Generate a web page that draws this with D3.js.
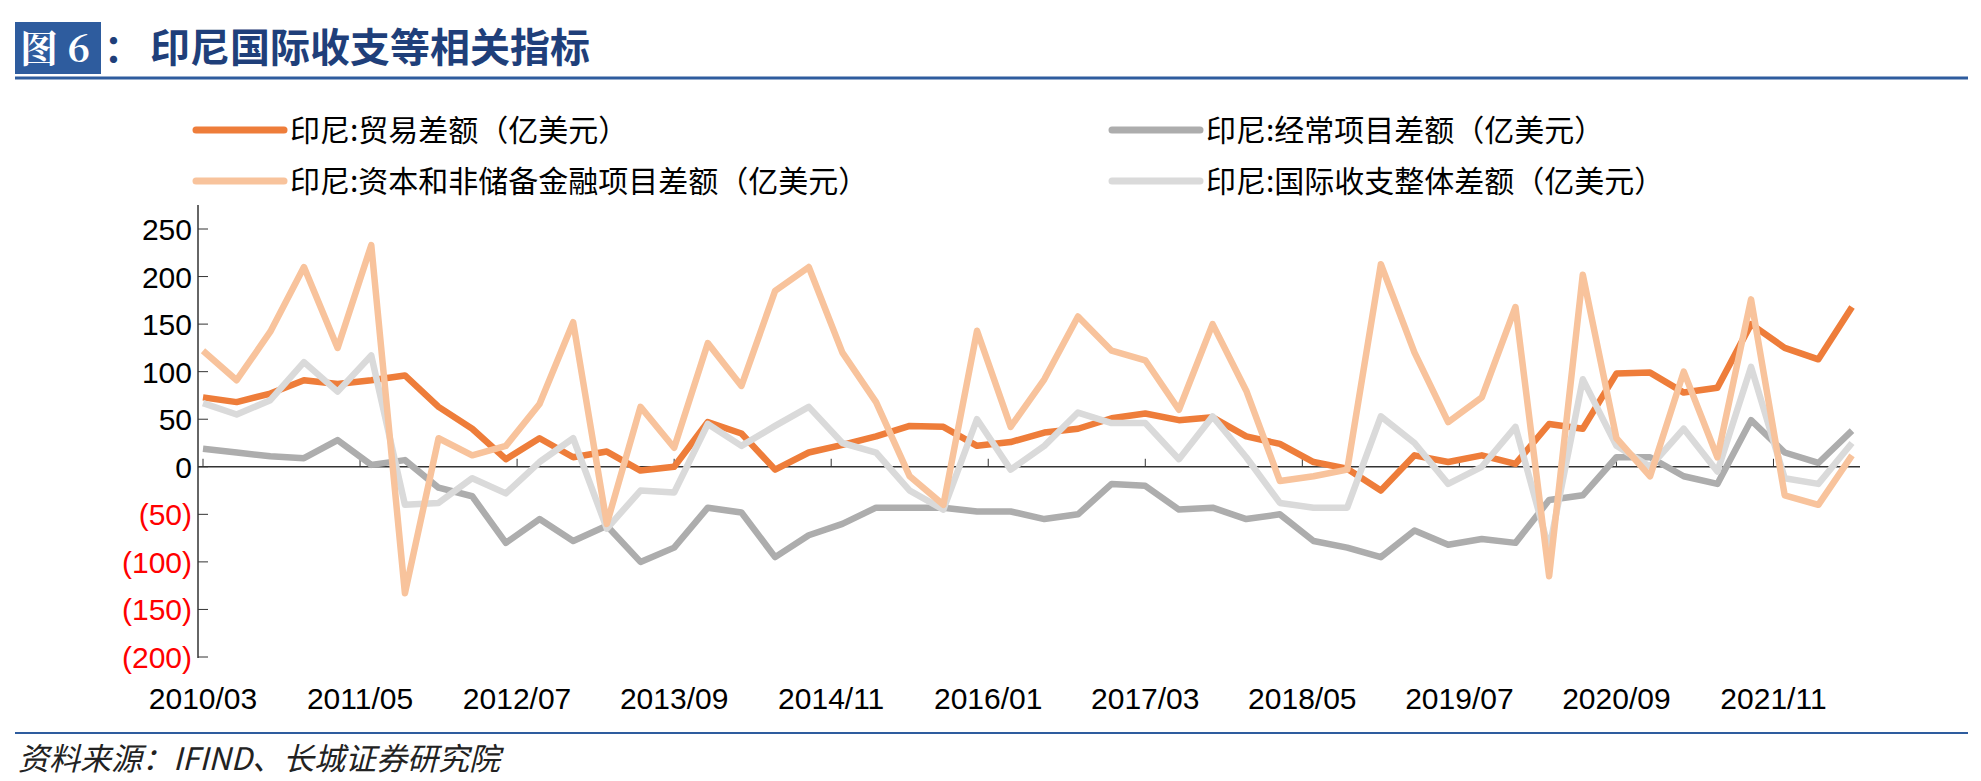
<!DOCTYPE html>
<html><head><meta charset="utf-8">
<script src="https://cdn.jsdelivr.net/npm/d3@7"></script>
<style>body{margin:0;background:#fff}</style>
</head><body>
<svg id="chart" width="1981" height="781"></svg>
<script>
// quarterly, 2010/03 .. 2022/06
var trade = [73,68,77,91,87,91,96,63,40,8,30,10,16,-4,0,47,35,-3,15,23,32,43,42,22,26,36,40,51,56,49,52,32,24,5,-2,-25,12,5,12,3,45,40,98,99,78,83,150,125,113,168];
var current = [19,15,11,9,28,2,7,-22,-31,-80,-55,-78,-62,-100,-85,-43,-48,-95,-72,-60,-43,-43,-43,-47,-47,-55,-50,-18,-20,-45,-43,-55,-50,-78,-85,-95,-67,-82,-76,-80,-35,-30,10,10,-10,-18,49,15,4,38];
var capital = [122,91,142,210,125,233,-133,30,12,22,66,152,-60,63,20,130,85,185,210,120,68,-10,-40,143,42,92,158,122,112,60,150,80,-15,-10,-3,213,120,47,73,168,-115,202,30,-10,100,10,176,-30,-40,12];
var overall = [67,55,70,110,79,117,-40,-38,-12,-28,5,30,-65,-25,-27,45,22,43,63,25,15,-25,-45,50,-3,22,57,46,46,8,53,10,-38,-43,-43,53,25,-18,0,42,-87,92,22,0,40,-5,105,-12,-18,25];
var xLabels = ["2010/03","2011/05","2012/07","2013/09","2014/11","2016/01","2017/03","2018/05","2019/07","2020/09","2021/11"];
var yTicks = [250,200,150,100,50,0,-50,-100,-150,-200];
var names = ["印尼:贸易差额（亿美元）","印尼:经常项目差额（亿美元）","印尼:资本和非储备金融项目差额（亿美元）","印尼:国际收支整体差额（亿美元）"];

var svg = d3.select("#chart");
var font = "'Liberation Sans', Arial, sans-serif";
var cjk = "'Noto Sans CJK SC', sans-serif";

// title
svg.append("rect").attr("x", 15).attr("y", 22).attr("width", 86).attr("height", 52).attr("fill", "#2E5C9E");
svg.append("text").attr("x", 20).attr("y", 62).attr("fill", "#fff").attr("font-size", 38).attr("font-weight", "bold")
  .attr("font-family", "'Noto Serif CJK SC','Liberation Serif',serif").text("图 6");
svg.append("text").attr("x", 104).attr("y", 62).attr("fill", "#1F3F7A").attr("font-size", 38).attr("font-weight", "bold")
  .attr("font-family", cjk).text("：");
svg.append("text").attr("x", 150).attr("y", 62).attr("fill", "#1F3F7A").attr("font-size", 40).attr("font-weight", "bold")
  .attr("font-family", cjk).text("印尼国际收支等相关指标");
svg.append("line").attr("x1", 15).attr("x2", 1968).attr("y1", 78).attr("y2", 78).attr("stroke", "#2E5C9E").attr("stroke-width", 3);
svg.append("line").attr("x1", 15).attr("x2", 1968).attr("y1", 733).attr("y2", 733).attr("stroke", "#2E5C9E").attr("stroke-width", 2);
svg.append("text").attr("x", 18).attr("y", 770).attr("font-size", 31).attr("font-style", "italic").attr("fill", "#222")
  .attr("font-family", cjk).text("资料来源：IFIND、长城证券研究院");

var x = d3.scaleLinear().domain([0, 147]).range([203, 1852]);
var y = d3.scaleLinear().domain([-200, 250]).range([657, 229]);

// y axis
svg.append("line").attr("x1", 198).attr("x2", 198).attr("y1", 205).attr("y2", 658).attr("stroke", "#333").attr("stroke-width", 1.5);
yTicks.forEach(function (v) {
  svg.append("line").attr("x1", 198).attr("x2", 208).attr("y1", y(v)).attr("y2", y(v)).attr("stroke", "#333");
  svg.append("text").attr("x", 192).attr("y", y(v) + 11).attr("text-anchor", "end").attr("font-size", 30)
    .attr("font-family", font).attr("fill", v < 0 ? "#FF0000" : "#000")
    .text(v < 0 ? "(" + (-v) + ")" : v);
});
// zero line + x ticks
svg.append("line").attr("x1", 198).attr("x2", 1860).attr("y1", y(0)).attr("y2", y(0)).attr("stroke", "#333").attr("stroke-width", 1.5);
xLabels.forEach(function (t, k) {
  var px = x(k * 14);
  svg.append("line").attr("x1", px).attr("x2", px).attr("y1", y(0)).attr("y2", y(0) - 8).attr("stroke", "#333");
  svg.append("text").attr("x", px).attr("y", 709).attr("text-anchor", "middle").attr("font-size", 30)
    .attr("font-family", font).text(t);
});

var line = d3.line().x(function (d, i) { return x(i * 3); }).y(function (d) { return y(d); });
var series = [
  { data: current, color: "#ADADAD" },
  { data: trade, color: "#EE7D3A" },
  { data: overall, color: "#DADADA" },
  { data: capital, color: "#F8C39C" }
];
series.forEach(function (s) {
  svg.append("path").datum(s.data).attr("d", line).attr("fill", "none").attr("stroke", s.color)
    .attr("stroke-width", 6.5).attr("stroke-linejoin", "round");
});

// legend
var legend = [
  { name: names[0], color: "#EE7D3A", x: 196, y: 130 },
  { name: names[1], color: "#ADADAD", x: 1112, y: 130 },
  { name: names[2], color: "#F8C39C", x: 196, y: 181 },
  { name: names[3], color: "#DADADA", x: 1112, y: 181 }
];
legend.forEach(function (l) {
  svg.append("line").attr("x1", l.x).attr("x2", l.x + 88).attr("y1", l.y).attr("y2", l.y)
    .attr("stroke", l.color).attr("stroke-width", 7).attr("stroke-linecap", "round");
  svg.append("text").attr("x", l.x + 94).attr("y", l.y + 11).attr("font-size", 30).attr("font-family", cjk).text(l.name);
});
</script>
</body></html>
